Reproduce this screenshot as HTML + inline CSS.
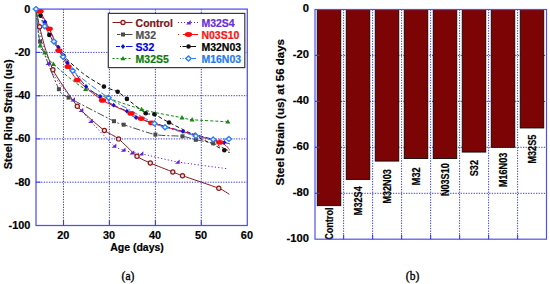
<!DOCTYPE html>
<html><head><meta charset="utf-8"><style>
html,body{margin:0;padding:0;background:#fff;width:550px;height:284px;overflow:hidden}
svg{display:block}
</style></head><body>
<svg width="550" height="284" viewBox="0 0 550 284">
<line x1="63.5" y1="9.1" x2="63.5" y2="225.5" stroke="#3a3af0" stroke-width="1" stroke-dasharray="1.3,1.3"/>
<line x1="109.4" y1="9.1" x2="109.4" y2="225.5" stroke="#3a3af0" stroke-width="1" stroke-dasharray="1.3,1.3"/>
<line x1="155.4" y1="9.1" x2="155.4" y2="225.5" stroke="#3a3af0" stroke-width="1" stroke-dasharray="1.3,1.3"/>
<line x1="201.3" y1="9.1" x2="201.3" y2="225.5" stroke="#3a3af0" stroke-width="1" stroke-dasharray="1.3,1.3"/>
<line x1="35.95" y1="52.4" x2="247.3" y2="52.4" stroke="#3a3af0" stroke-width="1" stroke-dasharray="1.3,1.3"/>
<line x1="35.95" y1="95.7" x2="247.3" y2="95.7" stroke="#3a3af0" stroke-width="1" stroke-dasharray="1.3,1.3"/>
<line x1="35.95" y1="138.9" x2="247.3" y2="138.9" stroke="#3a3af0" stroke-width="1" stroke-dasharray="1.3,1.3"/>
<line x1="35.95" y1="182.2" x2="247.3" y2="182.2" stroke="#3a3af0" stroke-width="1" stroke-dasharray="1.3,1.3"/>
<rect x="36.0" y="9.1" width="211.3" height="216.4" fill="none" stroke="#5050f0" stroke-width="1.25"/>
<line x1="63.5" y1="225.5" x2="63.5" y2="220.2" stroke="#3a3af0" stroke-width="1.1"/>
<line x1="109.4" y1="225.5" x2="109.4" y2="220.2" stroke="#3a3af0" stroke-width="1.1"/>
<line x1="155.4" y1="225.5" x2="155.4" y2="220.2" stroke="#3a3af0" stroke-width="1.1"/>
<line x1="201.3" y1="225.5" x2="201.3" y2="220.2" stroke="#3a3af0" stroke-width="1.1"/>
<line x1="35.95" y1="52.4" x2="40.5" y2="52.4" stroke="#3a3af0" stroke-width="1.1"/>
<line x1="35.95" y1="95.7" x2="40.5" y2="95.7" stroke="#3a3af0" stroke-width="1.1"/>
<line x1="35.95" y1="138.9" x2="40.5" y2="138.9" stroke="#3a3af0" stroke-width="1.1"/>
<line x1="35.95" y1="182.2" x2="40.5" y2="182.2" stroke="#3a3af0" stroke-width="1.1"/>
<path d="M36.0,9.1 C36.8,13.2 38.6,22.3 39.6,26.8 C40.7,31.4 43.6,43.1 45.1,48.1 C46.7,53.1 50.9,65.3 52.9,69.7 C55.0,74.1 60.2,81.7 63.0,85.9 C65.9,90.2 74.3,102.6 77.3,106.3 C80.3,109.9 85.6,114.5 88.8,117.3 C91.9,120.1 100.9,128.0 104.4,130.5 C107.9,133.0 114.8,135.9 118.6,138.9 C122.4,141.9 133.3,153.4 137.0,156.3 C140.7,159.1 146.1,161.1 150.3,163.0 C154.5,164.8 169.1,170.6 172.8,172.0 C176.6,173.5 177.1,173.8 182.5,175.7 C187.8,177.6 213.3,186.1 218.8,188.3 C224.2,190.5 226.9,192.9 229.3,194.3" fill="none" stroke="#8b1a1a" stroke-width="1"/>
<path d="M36.0,9.1 C37.0,15.2 39.1,28.8 40.5,35.1 C41.9,41.4 45.7,57.4 47.9,63.0 C50.0,68.5 56.0,78.4 58.9,82.7 C61.8,86.9 70.1,96.3 72.7,99.6 C75.3,102.8 78.9,107.6 81.0,110.2 C83.1,112.7 86.7,117.0 90.6,121.2 C94.5,125.4 110.2,142.5 114.0,145.9 C117.8,149.2 121.1,149.0 123.2,149.8 C125.3,150.5 129.9,152.1 131.9,152.6 C134.0,153.0 135.8,152.6 141.1,153.7 C146.4,154.7 167.3,160.1 177.4,161.9 C187.5,163.6 216.1,167.2 227.9,168.8" fill="none" stroke="#6424d4" stroke-width="1" stroke-dasharray="1.2,2.2"/>
<path d="M36.0,9.1 C36.9,16.7 37.4,32.2 40.1,41.6 C42.8,50.9 55.6,82.6 58.9,89.2 C62.2,95.7 62.1,93.9 68.6,97.6 C75.0,101.3 107.6,118.0 114.0,121.2 C120.5,124.4 118.9,123.1 123.7,124.7 C128.5,126.2 148.5,133.2 155.4,134.6 C162.2,136.0 177.8,135.7 182.5,136.3 C187.2,136.9 192.2,139.0 195.8,139.8 C199.4,140.6 209.4,142.0 213.2,143.3 C217.1,144.6 225.2,149.1 228.9,150.8" fill="none" stroke="#4a4a4a" stroke-width="1" stroke-dasharray="7,2,2,2"/>
<path d="M36.0,9.1 C36.9,17.6 39.1,40.6 40.1,45.7 C41.1,50.8 43.1,50.7 44.7,52.8 C46.2,55.0 48.6,59.8 53.4,64.1 C58.2,68.3 75.3,83.9 85.6,89.2 C95.8,94.4 130.3,106.0 141.6,109.3 C152.8,112.6 176.1,116.5 182.0,117.7 C187.9,118.9 186.8,119.2 192.1,119.7 C197.5,120.2 219.6,121.3 227.9,121.8" fill="none" stroke="#108a10" stroke-width="1" stroke-dasharray="3,2"/>
<path d="M36.0,9.1 C37.0,10.6 39.0,12.6 40.5,15.6 C42.1,18.6 46.6,30.2 49.3,34.9 C51.9,39.5 59.5,51.3 63.5,55.8 C67.5,60.4 79.0,70.4 83.7,74.0 C88.4,77.6 100.0,84.5 103.9,86.6 C107.9,88.6 115.0,90.3 117.7,91.8 C120.4,93.2 123.6,96.4 126.9,98.9 C130.2,101.4 142.5,111.4 145.7,113.2 C148.9,115.0 151.7,113.2 154.4,114.3 C157.2,115.4 161.0,118.3 169.1,122.5 C177.3,126.7 217.2,146.7 224.3,150.2 C231.3,153.7 228.5,151.9 229.8,152.4" fill="none" stroke="#111111" stroke-width="1" stroke-dasharray="4,2.5"/>
<path d="M36.0,9.1 C38.1,12.1 42.5,17.4 45.1,21.9 C47.8,26.3 55.8,42.4 58.5,47.2 C61.1,52.0 64.4,58.4 67.6,63.0 C70.9,67.6 82.2,82.4 86.0,86.4 C89.8,90.3 97.0,94.5 100.3,96.7 C103.5,98.9 110.5,103.5 113.6,105.2 C116.7,106.9 124.3,109.8 126.9,111.2 C129.5,112.7 129.5,115.4 136.1,117.7 C142.6,120.1 176.0,129.4 182.9,131.4 C189.8,133.3 190.5,133.3 195.3,134.6 C200.1,135.9 220.2,141.3 224.3,142.4 C228.3,143.5 228.5,143.6 229.8,143.9" fill="none" stroke="#0a14e0" stroke-width="1" stroke-dasharray="5,2"/>
<path d="M36.0,9.1 C36.9,9.6 38.5,9.0 40.1,11.3 C41.6,13.6 47.1,24.2 49.3,28.8 C51.5,33.4 56.7,46.2 58.9,50.6 C61.1,55.1 66.0,63.2 68.1,66.7 C70.2,70.1 73.3,76.1 77.3,80.1 C81.3,84.0 96.3,96.5 102.5,100.4 C108.8,104.3 126.5,111.3 131.0,113.4 C135.5,115.5 138.7,117.5 141.1,118.6 C143.5,119.7 142.5,120.1 151.7,122.9 C160.9,125.7 210.6,139.2 219.7,142.4 C228.8,145.6 227.4,148.4 229.8,150.2" fill="none" stroke="#ff0a0a" stroke-width="1"/>
<path d="M36.0,9.1 C38.0,13.1 42.6,22.4 44.7,26.2 C46.8,30.0 51.7,38.0 53.9,41.6 C56.0,45.1 60.9,53.3 63.0,56.7 C65.2,60.1 67.4,66.0 72.7,70.8 C78.0,75.6 99.0,91.7 108.5,97.8 C118.1,104.0 147.9,119.9 154.4,123.4 C161.0,126.8 160.2,125.8 165.0,127.3 C169.8,128.7 190.2,134.5 195.8,135.9 C201.4,137.3 209.4,139.0 213.2,139.4 C217.1,139.7 225.2,139.0 228.9,138.9" fill="none" stroke="#2f80f0" stroke-width="1" stroke-dasharray="6,2,2,2"/>
<circle cx="39.6" cy="26.8" r="2.1" fill="#f4e0e0" stroke="#8b1a1a" stroke-width="1.2"/>
<circle cx="52.9" cy="69.7" r="2.1" fill="#f4e0e0" stroke="#8b1a1a" stroke-width="1.2"/>
<circle cx="77.3" cy="106.3" r="2.1" fill="#f4e0e0" stroke="#8b1a1a" stroke-width="1.2"/>
<circle cx="104.4" cy="130.5" r="2.1" fill="#f4e0e0" stroke="#8b1a1a" stroke-width="1.2"/>
<circle cx="118.6" cy="138.9" r="2.1" fill="#f4e0e0" stroke="#8b1a1a" stroke-width="1.2"/>
<circle cx="137.0" cy="156.3" r="2.1" fill="#f4e0e0" stroke="#8b1a1a" stroke-width="1.2"/>
<circle cx="150.3" cy="163.0" r="2.1" fill="#f4e0e0" stroke="#8b1a1a" stroke-width="1.2"/>
<circle cx="172.8" cy="172.0" r="2.1" fill="#f4e0e0" stroke="#8b1a1a" stroke-width="1.2"/>
<circle cx="182.5" cy="175.7" r="2.1" fill="#f4e0e0" stroke="#8b1a1a" stroke-width="1.2"/>
<circle cx="218.8" cy="188.3" r="2.1" fill="#f4e0e0" stroke="#8b1a1a" stroke-width="1.2"/>
<path d="M50.2,60.6L50.2,64.9L45.4,64.9Z" fill="#6424d4"/>
<path d="M75.0,97.2L75.0,101.5L70.2,101.5Z" fill="#6424d4"/>
<path d="M83.3,107.8L83.3,112.1L78.5,112.1Z" fill="#6424d4"/>
<path d="M92.9,118.8L92.9,123.1L88.1,123.1Z" fill="#6424d4"/>
<path d="M116.3,143.5L116.3,147.8L111.5,147.8Z" fill="#6424d4"/>
<path d="M125.5,147.4L125.5,151.7L120.7,151.7Z" fill="#6424d4"/>
<path d="M134.2,150.2L134.2,154.5L129.4,154.5Z" fill="#6424d4"/>
<path d="M143.4,151.3L143.4,155.6L138.6,155.6Z" fill="#6424d4"/>
<path d="M179.7,159.5L179.7,163.8L174.9,163.8Z" fill="#6424d4"/>
<rect x="38.1" y="39.6" width="4" height="4" fill="#4a4a4a"/>
<rect x="56.9" y="87.2" width="4" height="4" fill="#4a4a4a"/>
<rect x="66.6" y="95.6" width="4" height="4" fill="#4a4a4a"/>
<rect x="112.0" y="119.2" width="4" height="4" fill="#4a4a4a"/>
<rect x="121.7" y="122.7" width="4" height="4" fill="#4a4a4a"/>
<rect x="153.4" y="132.6" width="4" height="4" fill="#4a4a4a"/>
<rect x="180.5" y="134.3" width="4" height="4" fill="#4a4a4a"/>
<rect x="193.8" y="137.8" width="4" height="4" fill="#4a4a4a"/>
<rect x="211.2" y="141.3" width="4" height="4" fill="#4a4a4a"/>
<path d="M40.1,43.1L42.6,47.5L37.6,47.5Z" fill="#108a10"/>
<path d="M44.7,50.2L47.2,54.6L42.2,54.6Z" fill="#108a10"/>
<path d="M53.4,61.5L55.9,65.9L50.9,65.9Z" fill="#108a10"/>
<path d="M85.6,86.6L88.1,91.0L83.1,91.0Z" fill="#108a10"/>
<path d="M141.6,106.7L144.1,111.1L139.1,111.1Z" fill="#108a10"/>
<path d="M182.0,115.1L184.5,119.5L179.5,119.5Z" fill="#108a10"/>
<path d="M192.1,117.1L194.6,121.5L189.6,121.5Z" fill="#108a10"/>
<path d="M227.9,119.2L230.4,123.6L225.4,123.6Z" fill="#108a10"/>
<circle cx="40.5" cy="15.6" r="2.3" fill="#111111"/>
<circle cx="49.3" cy="34.9" r="2.3" fill="#111111"/>
<circle cx="63.5" cy="55.8" r="2.3" fill="#111111"/>
<circle cx="103.9" cy="86.6" r="2.3" fill="#111111"/>
<circle cx="117.7" cy="91.8" r="2.3" fill="#111111"/>
<circle cx="126.9" cy="98.9" r="2.3" fill="#111111"/>
<circle cx="145.7" cy="113.2" r="2.3" fill="#111111"/>
<circle cx="154.4" cy="114.3" r="2.3" fill="#111111"/>
<circle cx="169.1" cy="122.5" r="2.3" fill="#111111"/>
<circle cx="224.3" cy="150.2" r="2.3" fill="#111111"/>
<path d="M45.1,19.5L47.3,21.9L45.1,24.3L42.9,21.9Z" fill="#0a14e0"/>
<path d="M58.5,44.8L60.7,47.2L58.5,49.6L56.3,47.2Z" fill="#0a14e0"/>
<path d="M67.6,60.6L69.8,63.0L67.6,65.4L65.4,63.0Z" fill="#0a14e0"/>
<path d="M86.0,84.0L88.2,86.4L86.0,88.8L83.8,86.4Z" fill="#0a14e0"/>
<path d="M100.3,94.3L102.5,96.7L100.3,99.1L98.1,96.7Z" fill="#0a14e0"/>
<path d="M113.6,102.8L115.8,105.2L113.6,107.6L111.4,105.2Z" fill="#0a14e0"/>
<path d="M126.9,108.8L129.1,111.2L126.9,113.6L124.7,111.2Z" fill="#0a14e0"/>
<path d="M136.1,115.3L138.3,117.7L136.1,120.1L133.9,117.7Z" fill="#0a14e0"/>
<path d="M182.9,129.0L185.1,131.4L182.9,133.8L180.7,131.4Z" fill="#0a14e0"/>
<path d="M195.3,132.2L197.5,134.6L195.3,137.0L193.1,134.6Z" fill="#0a14e0"/>
<path d="M224.3,140.0L226.5,142.4L224.3,144.8L222.1,142.4Z" fill="#0a14e0"/>
<ellipse cx="40.1" cy="11.3" rx="3.6" ry="2.4" fill="#ff0a0a"/>
<ellipse cx="49.3" cy="28.8" rx="3.6" ry="2.4" fill="#ff0a0a"/>
<ellipse cx="58.9" cy="50.6" rx="3.6" ry="2.4" fill="#ff0a0a"/>
<ellipse cx="68.1" cy="66.7" rx="3.6" ry="2.4" fill="#ff0a0a"/>
<ellipse cx="77.3" cy="80.1" rx="3.6" ry="2.4" fill="#ff0a0a"/>
<ellipse cx="102.5" cy="100.4" rx="3.6" ry="2.4" fill="#ff0a0a"/>
<ellipse cx="131.0" cy="113.4" rx="3.6" ry="2.4" fill="#ff0a0a"/>
<ellipse cx="141.1" cy="118.6" rx="3.6" ry="2.4" fill="#ff0a0a"/>
<ellipse cx="151.7" cy="122.9" rx="3.6" ry="2.4" fill="#ff0a0a"/>
<ellipse cx="219.7" cy="142.4" rx="3.6" ry="2.4" fill="#ff0a0a"/>
<path d="M36.0,6.6L38.7,9.1L36.0,11.6L33.2,9.1Z" fill="#eef6ff" stroke="#2f80f0" stroke-width="1.4"/>
<path d="M44.7,23.7L47.4,26.2L44.7,28.7L42.0,26.2Z" fill="#eef6ff" stroke="#2f80f0" stroke-width="1.4"/>
<path d="M53.9,39.1L56.6,41.6L53.9,44.1L51.2,41.6Z" fill="#eef6ff" stroke="#2f80f0" stroke-width="1.4"/>
<path d="M63.0,54.2L65.7,56.7L63.0,59.2L60.3,56.7Z" fill="#eef6ff" stroke="#2f80f0" stroke-width="1.4"/>
<path d="M72.7,68.3L75.4,70.8L72.7,73.3L70.0,70.8Z" fill="#eef6ff" stroke="#2f80f0" stroke-width="1.4"/>
<path d="M108.5,95.3L111.2,97.8L108.5,100.3L105.8,97.8Z" fill="#eef6ff" stroke="#2f80f0" stroke-width="1.4"/>
<path d="M154.4,120.9L157.1,123.4L154.4,125.9L151.7,123.4Z" fill="#eef6ff" stroke="#2f80f0" stroke-width="1.4"/>
<path d="M165.0,124.8L167.7,127.3L165.0,129.8L162.3,127.3Z" fill="#eef6ff" stroke="#2f80f0" stroke-width="1.4"/>
<path d="M195.8,133.4L198.5,135.9L195.8,138.4L193.1,135.9Z" fill="#eef6ff" stroke="#2f80f0" stroke-width="1.4"/>
<path d="M213.2,136.9L215.9,139.4L213.2,141.9L210.5,139.4Z" fill="#eef6ff" stroke="#2f80f0" stroke-width="1.4"/>
<path d="M228.9,136.4L231.6,138.9L228.9,141.4L226.2,138.9Z" fill="#eef6ff" stroke="#2f80f0" stroke-width="1.4"/>
<text x="30.4" y="12.5" text-anchor="end" style="font-family:'Liberation Sans',sans-serif;font-weight:bold;stroke:#000;stroke-width:0.2px;font-size:10.9px">0</text>
<text x="30.4" y="55.8" text-anchor="end" style="font-family:'Liberation Sans',sans-serif;font-weight:bold;stroke:#000;stroke-width:0.2px;font-size:10.9px">-20</text>
<text x="30.4" y="99.1" text-anchor="end" style="font-family:'Liberation Sans',sans-serif;font-weight:bold;stroke:#000;stroke-width:0.2px;font-size:10.9px">-40</text>
<text x="30.4" y="142.3" text-anchor="end" style="font-family:'Liberation Sans',sans-serif;font-weight:bold;stroke:#000;stroke-width:0.2px;font-size:10.9px">-60</text>
<text x="30.4" y="185.6" text-anchor="end" style="font-family:'Liberation Sans',sans-serif;font-weight:bold;stroke:#000;stroke-width:0.2px;font-size:10.9px">-80</text>
<text x="30.4" y="228.9" text-anchor="end" style="font-family:'Liberation Sans',sans-serif;font-weight:bold;stroke:#000;stroke-width:0.2px;font-size:10.9px">-100</text>
<text x="63.2" y="238.7" text-anchor="middle" style="font-family:'Liberation Sans',sans-serif;font-weight:bold;stroke:#000;stroke-width:0.2px;font-size:10.9px">20</text>
<text x="109.1" y="238.7" text-anchor="middle" style="font-family:'Liberation Sans',sans-serif;font-weight:bold;stroke:#000;stroke-width:0.2px;font-size:10.9px">30</text>
<text x="155.1" y="238.7" text-anchor="middle" style="font-family:'Liberation Sans',sans-serif;font-weight:bold;stroke:#000;stroke-width:0.2px;font-size:10.9px">40</text>
<text x="201.0" y="238.7" text-anchor="middle" style="font-family:'Liberation Sans',sans-serif;font-weight:bold;stroke:#000;stroke-width:0.2px;font-size:10.9px">50</text>
<text x="246.9" y="238.7" text-anchor="middle" style="font-family:'Liberation Sans',sans-serif;font-weight:bold;stroke:#000;stroke-width:0.2px;font-size:10.9px">60</text>
<text x="137" y="250.5" text-anchor="middle" style="font-family:'Liberation Sans',sans-serif;font-weight:bold;stroke:#000;stroke-width:0.2px;font-size:10.5px">Age (days)</text>
<text transform="translate(12.4,114.3) rotate(-90)" text-anchor="middle" style="font-family:'Liberation Sans',sans-serif;font-weight:bold;stroke:#000;stroke-width:0.2px;font-size:10.85px">Steel Ring Strain (us)</text>
<text x="128" y="279.6" text-anchor="middle" style="font-family:'Liberation Serif',serif;font-size:11.6px;stroke:#000;stroke-width:0.35px">(a)</text>
<rect x="108.3" y="13.4" width="136.5" height="54.2" fill="#fff" stroke="#3a3a3a" stroke-width="1.2"/>
<line x1="112.5" y1="22.5" x2="132.5" y2="22.5" stroke="#8b1a1a" stroke-width="1"/>
<circle cx="123.0" cy="22.5" r="2.1" fill="#f4e0e0" stroke="#8b1a1a" stroke-width="1.2"/>
<text x="135.6" y="27.1" fill="#7e1414" style="font-family:'Liberation Sans',sans-serif;font-weight:bold;stroke:#000;stroke-width:0.2px;stroke:#7e1414;font-size:10.5px">Control</text>
<line x1="178.0" y1="22.5" x2="179.0" y2="22.5" stroke="#6424d4" stroke-width="1"/>
<line x1="181.0" y1="22.5" x2="182.0" y2="22.5" stroke="#6424d4" stroke-width="1"/>
<line x1="184.0" y1="22.5" x2="185.0" y2="22.5" stroke="#6424d4" stroke-width="1"/>
<line x1="187.0" y1="22.5" x2="188.5" y2="22.5" stroke="#6424d4" stroke-width="1"/>
<line x1="191.0" y1="22.5" x2="192.0" y2="22.5" stroke="#6424d4" stroke-width="1"/>
<line x1="194.0" y1="22.5" x2="195.0" y2="22.5" stroke="#6424d4" stroke-width="1"/>
<line x1="197.0" y1="22.5" x2="198.0" y2="22.5" stroke="#6424d4" stroke-width="1"/>
<path d="M190.8,20.1L190.8,24.4L186.0,24.4Z" fill="#6424d4"/>
<text x="201.4" y="27.1" fill="#6a2ed8" style="font-family:'Liberation Sans',sans-serif;font-weight:bold;stroke:#000;stroke-width:0.2px;stroke:#6a2ed8;font-size:10.5px">M32S4</text>
<line x1="117.0" y1="34.5" x2="120.5" y2="34.5" stroke="#4a4a4a" stroke-width="1"/>
<line x1="124.5" y1="34.5" x2="132.5" y2="34.5" stroke="#4a4a4a" stroke-width="1"/>
<rect x="121.0" y="32.5" width="4" height="4" fill="#4a4a4a"/>
<text x="135.6" y="39.1" fill="#505050" style="font-family:'Liberation Sans',sans-serif;font-weight:bold;stroke:#000;stroke-width:0.2px;stroke:#505050;font-size:10.5px">M32</text>
<line x1="112.5" y1="58.5" x2="114.5" y2="58.5" stroke="#108a10" stroke-width="1"/>
<line x1="116.5" y1="58.5" x2="118.5" y2="58.5" stroke="#108a10" stroke-width="1"/>
<line x1="120.5" y1="58.5" x2="122.5" y2="58.5" stroke="#108a10" stroke-width="1"/>
<line x1="124.5" y1="58.5" x2="126.5" y2="58.5" stroke="#108a10" stroke-width="1"/>
<line x1="128.5" y1="58.5" x2="130.5" y2="58.5" stroke="#108a10" stroke-width="1"/>
<path d="M123.0,55.9L125.5,60.3L120.5,60.3Z" fill="#108a10"/>
<text x="135.6" y="63.1" fill="#0c7a0c" style="font-family:'Liberation Sans',sans-serif;font-weight:bold;stroke:#000;stroke-width:0.2px;stroke:#0c7a0c;font-size:10.5px">M32S5</text>
<line x1="180.0" y1="46.5" x2="181.0" y2="46.5" stroke="#111111" stroke-width="1"/>
<line x1="182.5" y1="46.5" x2="186.0" y2="46.5" stroke="#111111" stroke-width="1"/>
<line x1="190.0" y1="46.5" x2="196.0" y2="46.5" stroke="#111111" stroke-width="1"/>
<circle cx="188.5" cy="46.5" r="2.3" fill="#111111"/>
<text x="201.4" y="51.1" fill="#000" style="font-family:'Liberation Sans',sans-serif;font-weight:bold;stroke:#000;stroke-width:0.2px;stroke:#000;font-size:10.5px">M32N03</text>
<line x1="116.0" y1="46.5" x2="120.0" y2="46.5" stroke="#0a14e0" stroke-width="1"/>
<line x1="126.0" y1="46.5" x2="132.5" y2="46.5" stroke="#0a14e0" stroke-width="1"/>
<path d="M123.0,44.1L125.2,46.5L123.0,48.9L120.8,46.5Z" fill="#0a14e0"/>
<text x="135.6" y="51.1" fill="#0000d8" style="font-family:'Liberation Sans',sans-serif;font-weight:bold;stroke:#000;stroke-width:0.2px;stroke:#0000d8;font-size:10.5px">S32</text>
<line x1="178.0" y1="34.5" x2="179.0" y2="34.5" stroke="#ff0a0a" stroke-width="1"/>
<line x1="183.0" y1="34.5" x2="198.0" y2="34.5" stroke="#ff0a0a" stroke-width="1"/>
<ellipse cx="188.5" cy="34.5" rx="3.6" ry="2.4" fill="#ff0a0a"/>
<text x="201.4" y="39.1" fill="#ff1010" style="font-family:'Liberation Sans',sans-serif;font-weight:bold;stroke:#000;stroke-width:0.2px;stroke:#ff1010;font-size:10.5px">N03S10</text>
<line x1="180.0" y1="58.5" x2="181.0" y2="58.5" stroke="#2f80f0" stroke-width="1"/>
<line x1="182.5" y1="58.5" x2="183.5" y2="58.5" stroke="#2f80f0" stroke-width="1"/>
<line x1="185.0" y1="58.5" x2="186.0" y2="58.5" stroke="#2f80f0" stroke-width="1"/>
<line x1="192.0" y1="58.5" x2="196.0" y2="58.5" stroke="#2f80f0" stroke-width="1"/>
<path d="M188.5,56.0L191.2,58.5L188.5,61.0L185.8,58.5Z" fill="#eef6ff" stroke="#2f80f0" stroke-width="1.4"/>
<text x="201.4" y="63.1" fill="#2a7ae8" style="font-family:'Liberation Sans',sans-serif;font-weight:bold;stroke:#000;stroke-width:0.2px;stroke:#2a7ae8;font-size:10.5px">M16N03</text>
<line x1="315.0" y1="55.4" x2="546.5" y2="55.4" stroke="#3a3af0" stroke-width="1" stroke-dasharray="1.3,1.3"/>
<line x1="315.0" y1="101.4" x2="546.5" y2="101.4" stroke="#3a3af0" stroke-width="1" stroke-dasharray="1.3,1.3"/>
<line x1="315.0" y1="147.3" x2="546.5" y2="147.3" stroke="#3a3af0" stroke-width="1" stroke-dasharray="1.3,1.3"/>
<line x1="315.0" y1="193.3" x2="546.5" y2="193.3" stroke="#3a3af0" stroke-width="1" stroke-dasharray="1.3,1.3"/>
<line x1="343.6" y1="9.5" x2="343.6" y2="239.2" stroke="#3a3af0" stroke-width="1" stroke-dasharray="1.3,1.3"/>
<line x1="372.6" y1="9.5" x2="372.6" y2="239.2" stroke="#3a3af0" stroke-width="1" stroke-dasharray="1.3,1.3"/>
<line x1="401.6" y1="9.5" x2="401.6" y2="239.2" stroke="#3a3af0" stroke-width="1" stroke-dasharray="1.3,1.3"/>
<line x1="430.6" y1="9.5" x2="430.6" y2="239.2" stroke="#3a3af0" stroke-width="1" stroke-dasharray="1.3,1.3"/>
<line x1="459.6" y1="9.5" x2="459.6" y2="239.2" stroke="#3a3af0" stroke-width="1" stroke-dasharray="1.3,1.3"/>
<line x1="488.6" y1="9.5" x2="488.6" y2="239.2" stroke="#3a3af0" stroke-width="1" stroke-dasharray="1.3,1.3"/>
<line x1="517.6" y1="9.5" x2="517.6" y2="239.2" stroke="#3a3af0" stroke-width="1" stroke-dasharray="1.3,1.3"/>
<rect x="317.2" y="9.5" width="23.6" height="196.2" fill="#7d0404" stroke="#000" stroke-width="0.8"/>
<text transform="translate(333.4,207.5) rotate(-90) scale(0.875,1)" text-anchor="end" style="font-family:'Liberation Sans',sans-serif;font-weight:bold;stroke:#000;stroke-width:0.2px;font-size:10.4px">Control</text>
<rect x="346.2" y="9.5" width="23.6" height="170.0" fill="#7d0404" stroke="#000" stroke-width="0.8"/>
<text transform="translate(362.4,186.3) rotate(-90) scale(0.875,1)" text-anchor="end" style="font-family:'Liberation Sans',sans-serif;font-weight:bold;stroke:#000;stroke-width:0.2px;font-size:10.4px">M32S4</text>
<rect x="375.2" y="9.5" width="23.6" height="151.6" fill="#7d0404" stroke="#000" stroke-width="0.8"/>
<text transform="translate(391.4,169.2) rotate(-90) scale(0.875,1)" text-anchor="end" style="font-family:'Liberation Sans',sans-serif;font-weight:bold;stroke:#000;stroke-width:0.2px;font-size:10.4px">M32N03</text>
<rect x="404.2" y="9.5" width="23.6" height="149.1" fill="#7d0404" stroke="#000" stroke-width="0.8"/>
<text transform="translate(420.4,167.5) rotate(-90) scale(0.875,1)" text-anchor="end" style="font-family:'Liberation Sans',sans-serif;font-weight:bold;stroke:#000;stroke-width:0.2px;font-size:10.4px">M32</text>
<rect x="433.2" y="9.5" width="23.6" height="149.1" fill="#7d0404" stroke="#000" stroke-width="0.8"/>
<text transform="translate(449.4,163.2) rotate(-90) scale(0.875,1)" text-anchor="end" style="font-family:'Liberation Sans',sans-serif;font-weight:bold;stroke:#000;stroke-width:0.2px;font-size:10.4px">N03S10</text>
<rect x="462.2" y="9.5" width="23.6" height="142.6" fill="#7d0404" stroke="#000" stroke-width="0.8"/>
<text transform="translate(478.4,160.0) rotate(-90) scale(0.875,1)" text-anchor="end" style="font-family:'Liberation Sans',sans-serif;font-weight:bold;stroke:#000;stroke-width:0.2px;font-size:10.4px">S32</text>
<rect x="491.2" y="9.5" width="23.6" height="137.8" fill="#7d0404" stroke="#000" stroke-width="0.8"/>
<text transform="translate(507.4,152.7) rotate(-90) scale(0.875,1)" text-anchor="end" style="font-family:'Liberation Sans',sans-serif;font-weight:bold;stroke:#000;stroke-width:0.2px;font-size:10.4px">M16N03</text>
<rect x="520.2" y="9.5" width="23.6" height="118.5" fill="#7d0404" stroke="#000" stroke-width="0.8"/>
<text transform="translate(536.4,134.7) rotate(-90) scale(0.875,1)" text-anchor="end" style="font-family:'Liberation Sans',sans-serif;font-weight:bold;stroke:#000;stroke-width:0.2px;font-size:10.4px">M32S5</text>
<rect x="315.0" y="9.5" width="231.5" height="229.7" fill="none" stroke="#5050f0" stroke-width="1.2"/>
<line x1="343.6" y1="239.2" x2="343.6" y2="234.7" stroke="#3a3af0" stroke-width="1.1"/>
<line x1="372.6" y1="239.2" x2="372.6" y2="234.7" stroke="#3a3af0" stroke-width="1.1"/>
<line x1="401.6" y1="239.2" x2="401.6" y2="234.7" stroke="#3a3af0" stroke-width="1.1"/>
<line x1="430.6" y1="239.2" x2="430.6" y2="234.7" stroke="#3a3af0" stroke-width="1.1"/>
<line x1="459.6" y1="239.2" x2="459.6" y2="234.7" stroke="#3a3af0" stroke-width="1.1"/>
<line x1="488.6" y1="239.2" x2="488.6" y2="234.7" stroke="#3a3af0" stroke-width="1.1"/>
<line x1="517.6" y1="239.2" x2="517.6" y2="234.7" stroke="#3a3af0" stroke-width="1.1"/>
<line x1="315.0" y1="55.4" x2="319.5" y2="55.4" stroke="#3a3af0" stroke-width="1.1"/>
<line x1="315.0" y1="101.4" x2="319.5" y2="101.4" stroke="#3a3af0" stroke-width="1.1"/>
<line x1="315.0" y1="147.3" x2="319.5" y2="147.3" stroke="#3a3af0" stroke-width="1.1"/>
<line x1="315.0" y1="193.3" x2="319.5" y2="193.3" stroke="#3a3af0" stroke-width="1.1"/>
<text x="309.0" y="11.9" text-anchor="end" style="font-family:'Liberation Sans',sans-serif;font-weight:bold;stroke:#000;stroke-width:0.2px;font-size:11.2px">0</text>
<text x="309.0" y="57.8" text-anchor="end" style="font-family:'Liberation Sans',sans-serif;font-weight:bold;stroke:#000;stroke-width:0.2px;font-size:11.2px">-20</text>
<text x="309.0" y="103.8" text-anchor="end" style="font-family:'Liberation Sans',sans-serif;font-weight:bold;stroke:#000;stroke-width:0.2px;font-size:11.2px">-40</text>
<text x="309.0" y="149.7" text-anchor="end" style="font-family:'Liberation Sans',sans-serif;font-weight:bold;stroke:#000;stroke-width:0.2px;font-size:11.2px">-60</text>
<text x="309.0" y="195.7" text-anchor="end" style="font-family:'Liberation Sans',sans-serif;font-weight:bold;stroke:#000;stroke-width:0.2px;font-size:11.2px">-80</text>
<text x="309.0" y="241.6" text-anchor="end" style="font-family:'Liberation Sans',sans-serif;font-weight:bold;stroke:#000;stroke-width:0.2px;font-size:11.2px">-100</text>
<text transform="translate(284.2,112.2) rotate(-90)" text-anchor="middle" style="font-family:'Liberation Sans',sans-serif;font-weight:bold;stroke:#000;stroke-width:0.2px;font-size:11.5px">Steel Strain (us) at 56 days</text>
<text x="412.6" y="279.6" text-anchor="middle" style="font-family:'Liberation Serif',serif;font-size:11.6px;stroke:#000;stroke-width:0.35px">(b)</text>
</svg>
</body></html>
